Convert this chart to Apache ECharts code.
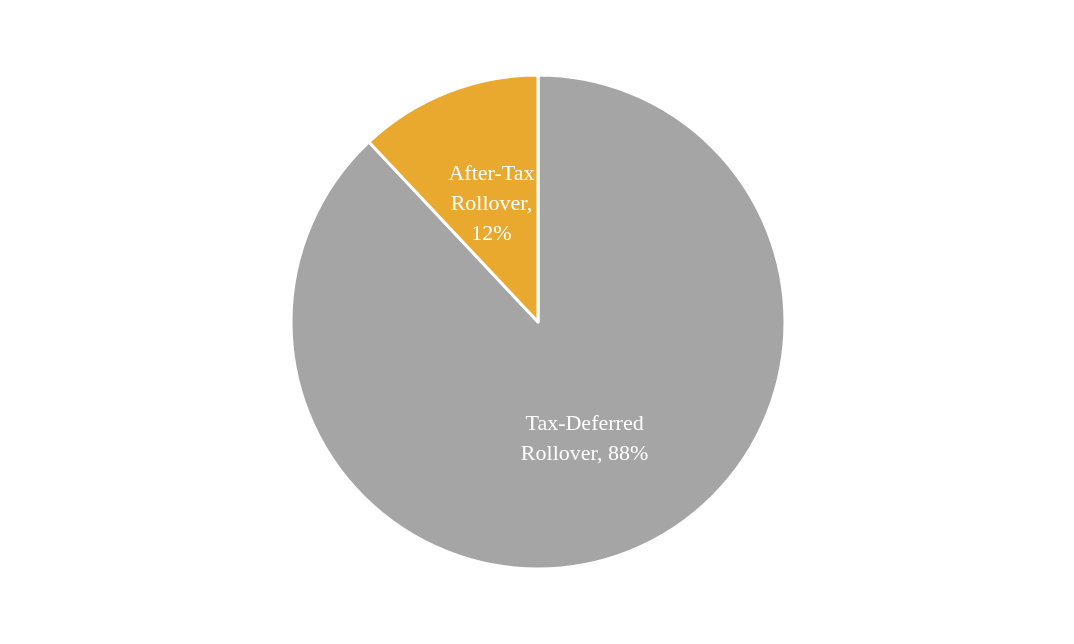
<!DOCTYPE html>
<html><head><meta charset="utf-8">
<script src="https://cdn.jsdelivr.net/npm/echarts@6/dist/echarts.min.js"></script>
<style>html,body{margin:0;padding:0;background:#fff}#c{width:1074px;height:644px}</style>
</head><body><div id="c"></div>
<script>
const categories = ["Tax-Deferred\nRollover", "After-Tax\nRollover"];
const values = [88, 12];
const colors = ["#A5A5A5", "#E9A92E"];
const chart = echarts.init(document.getElementById('c'));
chart.setOption({
  animation: false,
  series: [{
    type: 'pie',
    center: [538, 322],
    radius: [0, 247],
    startAngle: 90,
    clockwise: true,
    itemStyle: { borderColor: '#fff', borderWidth: 3 },
    label: {
      position: 'inner',
      color: '#fff',
      fontFamily: 'Liberation Serif, DejaVu Serif, serif',
      fontSize: 22,
      lineHeight: 30,
      formatter: p => p.name.replace('\n', p.dataIndex === 1 ? '\n' : '\n') + (p.dataIndex === 1 ? ',\n' : ', ') + p.value + '%'
    },
    labelLine: { show: false },
    data: categories.map((c, i) => ({
      name: c, value: values[i], itemStyle: { color: colors[i] }
    }))
  }]
});
</script></body></html>
